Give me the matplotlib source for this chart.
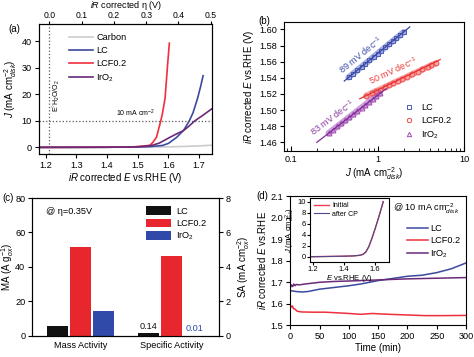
import numpy as np
import matplotlib
matplotlib.use("Agg")
import matplotlib.pyplot as plt

plt.rcParams['font.family'] = ['Liberation Sans', 'DejaVu Sans']
plt.rcParams['mathtext.fontset'] = 'custom'
plt.rcParams['mathtext.rm'] = 'Liberation Sans'
plt.rcParams['mathtext.it'] = 'Liberation Sans:italic'
plt.rcParams['font.size'] = 6.5
plt.rcParams['axes.linewidth'] = 0.8

TK = 6.6   # tick label size
LB = 7.0   # axis label size
LG = 6.6   # legend size

# (a) polarization curves
carbon_e = [1.18, 1.5, 1.6, 1.65, 1.7, 1.74]
carbon_j = [0, 0.05, 0.2, 0.35, 0.55, 0.8]
lc_e = [1.18, 1.4, 1.5, 1.54, 1.58, 1.6, 1.627, 1.65, 1.668, 1.68, 1.695, 1.705, 1.713]
lc_j = [0, 0.05, 0.15, 0.3, 0.7, 1.5, 3.8, 6.5, 10, 13, 18.5, 23, 27]
lcf_e = [1.18, 1.4, 1.48, 1.5, 1.52, 1.54, 1.55, 1.561, 1.57, 1.575, 1.58, 1.589, 1.597, 1.603]
lcf_j = [0, 0.05, 0.15, 0.3, 0.5, 0.8, 2.0, 3.8, 7.8, 10, 12.5, 18.5, 30.8, 39.3]
iro2_e = [1.18, 1.4, 1.48, 1.5, 1.52, 1.545, 1.57, 1.605, 1.625, 1.648, 1.665, 1.686, 1.71, 1.741]
iro2_j = [0, 0.05, 0.15, 0.25, 0.4, 0.7, 1.6, 3.8, 5.0, 6.25, 7.8, 10, 11.9, 14.5]

# (b) Tafel data and fits
lc_tj = [0.46, 0.52, 0.58, 0.65, 0.72, 0.8, 0.9, 1.0, 1.1, 1.22, 1.35, 1.5, 1.65, 1.8, 2.0]
lc_te = [1.5404, 1.5451, 1.5493, 1.5536, 1.5575, 1.5615, 1.5660, 1.5701, 1.5737,
         1.5777, 1.5815, 1.5856, 1.5892, 1.5925, 1.5966]
lcf_tj = [0.74, 0.85, 0.95, 1.05, 1.2, 1.35, 1.5, 1.7, 1.9, 2.2, 2.5, 2.9, 3.3, 3.8, 4.2, 4.7]
lcf_te = [1.5178, 1.5209, 1.5233, 1.5254, 1.5283, 1.5309, 1.5332, 1.5359, 1.5383,
          1.5415, 1.5443, 1.5475, 1.5503, 1.5534, 1.5555, 1.5580]
iro2_tj = [0.27, 0.3, 0.34, 0.38, 0.42, 0.47, 0.52, 0.58, 0.65, 0.72, 0.8, 0.88, 0.96, 1.06]
iro2_te = [1.4714, 1.4752, 1.4797, 1.4837, 1.4873, 1.4914, 1.4950, 1.4989, 1.5030,
           1.5067, 1.5105, 1.5140, 1.5171, 1.5207]
lc_fit_j, lc_fit_e = [0.41, 2.35], [1.536, 1.603]
lcf_fit_j, lcf_fit_e = [0.62, 5.3], [1.514, 1.5626]
iro2_fit_j, iro2_fit_e = [0.197, 1.25], [1.46, 1.5265]

# (c) activities
samples = ['LC', 'LCF0.2', 'IrO$_2$']
mass_act = [5.4, 51.5, 14.1]
spec_act = [0.14, 4.65, 0.01]
groups = ['Mass Activity', 'Specific Activity']

# (d) chronopotentiometry
lc_t = [0, 3, 10, 20, 30, 50, 75, 100, 120, 150, 175, 200, 225, 250, 275, 300]
lc_v = [1.662, 1.660, 1.657, 1.655, 1.657, 1.668, 1.676, 1.684, 1.692, 1.708,
        1.718, 1.728, 1.733, 1.745, 1.763, 1.79]
iro2_t = [0, 2, 4, 6, 8, 10, 15, 25, 50, 75, 100, 150, 200, 250, 300]
iro2_v = [1.675, 1.688, 1.68, 1.692, 1.684, 1.69, 1.688, 1.692, 1.700, 1.704,
          1.706, 1.711, 1.716, 1.719, 1.722]
lcf_t = [0, 2, 4, 5, 8, 12, 20, 40, 60, 80, 100, 120, 140, 160, 180, 200, 230, 260, 300]
lcf_v = [1.595, 1.585, 1.590, 1.578, 1.575, 1.565, 1.562, 1.561, 1.561, 1.558,
         1.555, 1.551, 1.555, 1.552, 1.550, 1.548, 1.545, 1.545, 1.546]
# inset
ins_e = [1.18, 1.3, 1.4, 1.46, 1.5, 1.52, 1.54, 1.56, 1.58, 1.60, 1.62, 1.64, 1.653]
ins_j = [0, 0.05, 0.1, 0.15, 0.25, 0.4, 0.8, 1.8, 3.3, 5.0, 6.8, 8.7, 10]

c_grey = '#cccccc'
c_blue = '#3b4a9e'
c_red = '#ee2f3c'
c_purp = '#6a2a78'

W, H = 474, 357
fig = plt.figure(figsize=(W / 100, H / 100), dpi=100)

def box(l, r, t, b):
    return [l / W, 1 - b / H, (r - l) / W, (b - t) / H]

# ---------- (a)
ax = fig.add_axes(box(39, 212, 24, 154))
ax.plot(carbon_e, carbon_j, color=c_grey, lw=1.2, label='Carbon')
ax.plot(lc_e, lc_j, color=c_blue, lw=1.2, label='LC')
ax.plot(lcf_e, lcf_j, color=c_red, lw=1.2, label='LCF0.2')
ax.plot(iro2_e, iro2_j, color=c_purp, lw=1.2, label='IrO$_2$')
ax.axhline(10, ls=':', color='0.35', lw=0.9)
ax.set_xlim(1.178, 1.742)
ax.set_ylim(-2.5, 46.5)
ax.set_xticks([1.2, 1.3, 1.4, 1.5, 1.6, 1.7])
ax.set_yticks([0, 10, 20, 30, 40])
ax.tick_params(direction='out', length=3, labelsize=TK, pad=2)
ax.set_xlabel('$iR$ corrected $E$ vs.RHE (V)', fontsize=LB, labelpad=1)
ax.set_ylabel('$J$ (mA cm$^{-2}_{disk}$)', fontsize=LB, labelpad=2)
ax.text(1.491, 12.9, '10 mA cm$^{-2}$', fontsize=5, ha='center', va='center')
ax.text(1.237, 19.5, 'E$^{\\circ}$H$_2$O/O$_2$', fontsize=5, rotation=90,
        ha='center', va='center')
ax.legend(loc='upper left', bbox_to_anchor=(0.14, 0.975), frameon=False, fontsize=LG,
          handlelength=2.6, labelspacing=0.45, borderaxespad=0.2, handletextpad=0.4)
axt = ax.twiny()
axt.set_xlim(-0.032, 0.504)
axt.axvline(0, ls=':', color='0.35', lw=0.9)
axt.set_xticks([0, 0.1, 0.2, 0.3, 0.4, 0.5])
axt.set_xticklabels(['0.0', '0.1', '0.2', '0.3', '0.4', '0.5'])
axt.tick_params(direction='out', length=2.5, labelsize=6.2, pad=0.5)
fig.text((39 + 212) / 2 / W, 1 - 5.6 / H, '$iR$ corrected η (V)', fontsize=6.5,
         ha='center', va='center')
fig.text(8 / W, 1 - 29 / H, '(a)', fontsize=LB, va='center')

# ---------- (b)
bx = fig.add_axes(box(283.7, 464, 21.7, 150.7))
bx.plot(lc_tj, lc_te, color='#5565c0', lw=4.5, alpha=0.55, solid_capstyle='round')
bx.plot(lcf_tj, lcf_te, color='#f25a5a', lw=4.5, alpha=0.55, solid_capstyle='round')
bx.plot(iro2_tj, iro2_te, color='#a050b8', lw=4.5, alpha=0.55, solid_capstyle='round')
bx.plot(lc_tj, lc_te, ls='', marker='s', ms=3.5, mfc='none', mec='#4a5ab8', mew=0.7, label='LC')
bx.plot(lcf_tj, lcf_te, ls='', marker='o', ms=3.5, mfc='none', mec='#f04848', mew=0.7, label='LCF0.2')
bx.plot(iro2_tj, iro2_te, ls='', marker='^', ms=3.5, mfc='none', mec='#a048b0', mew=0.7, label='IrO$_2$')
bx.plot(lc_fit_j, lc_fit_e, color='#34449e', lw=0.9)
bx.plot(lcf_fit_j, lcf_fit_e, color='#e83030', lw=0.9)
bx.plot(iro2_fit_j, iro2_fit_e, color='#7e2e96', lw=0.9)
bx.set_xscale('log')
bx.set_xlim(0.0815, 10)
bx.set_ylim(1.4497, 1.6095)
bx.set_xticks([0.1, 1, 10])
bx.set_xticklabels(['0.1', '1', '10'])
yt = [1.46, 1.48, 1.50, 1.52, 1.54, 1.56, 1.58, 1.60]
bx.set_yticks(yt)
bx.set_yticklabels(['%.2f' % v for v in yt])
bx.tick_params(axis='x', which='both', direction='in', labelsize=TK, pad=3)
bx.tick_params(axis='x', which='minor', length=2)
bx.tick_params(axis='y', direction='out', length=3, labelsize=TK, pad=2)
bx.set_xlabel('$J$ (mA cm$^{-2}_{disk}$)', fontsize=LB, labelpad=1)
bx.set_ylabel('$iR$ corrected $E$ vs.RHE (V)', fontsize=LB, labelpad=2)
bx.text(0.64, 1.568, '89 mV dec$^{-1}$', color='#3b4aa8', fontsize=LG, rotation=39,
        ha='center', va='center')
bx.text(1.51, 1.549, '50 mV dec$^{-1}$', color='#ee3a3a', fontsize=LG, rotation=25,
        ha='center', va='center')
bx.text(0.30, 1.491, '83 mV dec$^{-1}$', color='#8a3aa0', fontsize=LG, rotation=37,
        ha='center', va='center')
bx.legend(loc='lower right', bbox_to_anchor=(0.97, 0.02), frameon=False, fontsize=LG,
          handlelength=1.0, labelspacing=0.45, borderaxespad=0.4, markerscale=0.9)
fig.text(258 / W, 1 - 21 / H, '(b)', fontsize=LB, va='center')

# ---------- (c)
cx = fig.add_axes(box(32.3, 219, 198, 335.7))
cx2 = cx.twinx()
bar_cols = ['#111111', '#e8262e', '#2f4aa8']
w = 0.223
offs = [-0.2525, 0, 0.2525]
for k in range(3):
    cx.bar(0 + offs[k], mass_act[k], width=w, color=bar_cols[k], label=samples[k])
    cx2.bar(1 + offs[k], spec_act[k], width=w, color=bar_cols[k])
cx.set_xlim(-0.53, 1.52)
cx.set_ylim(0, 80)
cx2.set_ylim(0, 8)
cx.set_yticks([0, 20, 40, 60, 80])
cx2.set_yticks([0, 2, 4, 6, 8])
cx.set_xticks([0, 1])
cx.set_xticklabels(groups)
cx.tick_params(axis='x', length=0, labelsize=TK, pad=4)
cx.tick_params(axis='y', direction='out', length=3, labelsize=TK, pad=2)
cx2.tick_params(axis='y', direction='out', length=3, labelsize=TK, pad=2)
cx.set_ylabel('MA (A g$^{-1}_{ox}$)', fontsize=LB)
cx.yaxis.set_label_coords(-0.085, 0.5)
cx2.set_ylabel('SA (mA cm$^{-2}_{ox}$)', fontsize=LB, rotation=90, labelpad=3)
cx2.text(1 + offs[0], spec_act[0] + 0.12, '%.2f' % spec_act[0], ha='center', va='bottom',
         fontsize=TK, color='#111111')
cx2.text(1 + offs[2], spec_act[2] + 0.12, '%.2f' % spec_act[2], ha='center', va='bottom',
         fontsize=TK, color='#2f4aa8')
cx.text(0.075, 0.9, '@ η=0.35V', transform=cx.transAxes, fontsize=LG, va='center')
cx.legend(loc='upper right', bbox_to_anchor=(0.96, 0.98), frameon=False, fontsize=LG,
          handlelength=2.8, handleheight=1.1, labelspacing=0.3, borderaxespad=0.2,
          handletextpad=0.5)
fig.text(2 / W, 1 - 198 / H, '(c)', fontsize=LB, va='center')

# ---------- (d)
dx = fig.add_axes(box(290.3, 466, 196.3, 325.3))
dx.plot(lc_t, lc_v, color=c_blue, lw=1.1, label='LC')
dx.plot(lcf_t, lcf_v, color=c_red, lw=1.1, label='LCF0.2')
dx.plot(iro2_t, iro2_v, color=c_purp, lw=1.1, label='IrO$_2$')
dx.set_xlim(0, 300)
dx.set_ylim(1.5, 2.1)
dx.set_xticks([0, 50, 100, 150, 200, 250, 300])
dx.set_yticks([1.5, 1.6, 1.7, 1.8, 1.9, 2.0, 2.1])
dx.tick_params(direction='out', length=3, labelsize=TK, pad=2)
dx.set_xlabel('Time (min)', fontsize=LB, labelpad=1)
dx.set_ylabel('$iR$ corrected $E$ vs.RHE', fontsize=LB, labelpad=2)
dx.text(0.585, 0.9, '@ 10 mA cm$^{-2}_{disk}$', transform=dx.transAxes, fontsize=LG,
        va='center')
dx.legend(loc='upper right', bbox_to_anchor=(1.0, 0.83), frameon=False, fontsize=LG,
          handlelength=2.2, labelspacing=0.35, borderaxespad=0.2, handletextpad=0.3)
fig.text(256 / W, 1 - 196 / H, '(d)', fontsize=LB, va='center')

ix = fig.add_axes(box(310, 389, 198.3, 261.7))
ix.plot(ins_e, ins_j, color='#f04050', lw=1.0, label='Initial')
ix.plot(ins_e, ins_j, color='#4a4a8a', lw=0.8, label='after CP')
ix.set_xlim(1.183, 1.69)
ix.set_ylim(-0.9, 10.6)
ix.set_xticks([1.2, 1.4, 1.6])
ix.set_yticks([0, 2, 4, 6, 8, 10])
ix.tick_params(direction='out', length=2, labelsize=5.5, pad=1)
ix.set_xlabel('$E$ vs.RHE (V)', fontsize=5.5, labelpad=0)
ix.set_ylabel('$J$ (mA cm$^{-2}_{disk}$)', fontsize=5.5, labelpad=0)
ix.legend(loc='upper left', frameon=False, fontsize=5, handlelength=2.2,
          labelspacing=0.2, borderaxespad=0.2, handletextpad=0.4)

fig.savefig('out.png', dpi=100)
